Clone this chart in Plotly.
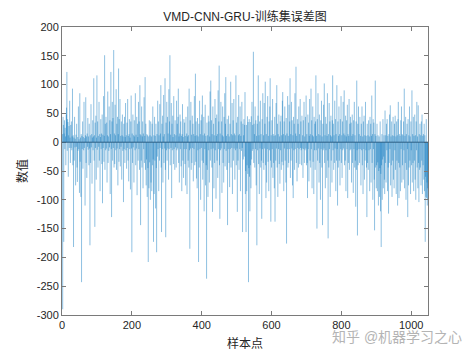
import plotly.graph_objects as go

# Training-set prediction errors, one value per sample
errors = [
    14, -290, 44, 30, -173, 15, 38, -12, 25, 10, -40, 48, 60, 122, -15, 40, 35, -60, 12, 28, -10, 72, 8, -36, 30,
    -10, 36, -14, 10, 93, -40, 12, -182, 8, -32, 44, -9, 6, -75, 13, -8, 32, -44, -69, 9, -15, 62, -12, 5, -88,
    85, -34, 8, -95, 14, -243, 11, -12, 36, -46, 9, -14, 70, -10, 7, -110, 12, 78, -36, 10, -62, 15, -8, 42, -13,
    10, -40, 32, -11, -179, 12, -36, 66, -9, 14, -72, 8, 38, -14, 10, 111, -32, 12, -147, 34, -10, 46, -65, 8, 116,
    -13, 36, -44, 11, -8, 70, -32, 14, -85, 9, 40, -12, 15, -38, 48, -106, 13, -10, 80, -34, 11, 151, -48, 32, -14,
    44, -11, 34, -70, 12, 88, -36, 10, -15, 62, -9, 38, -90, 14, 122, -12, -130, 36, 70, -32, 42, -10, 160, -44, 15,
    -38, 65, 12, -14, 92, -48, 32, -11, 44, -75, 14, 128, -34, 40, -12, 75, -42, 11, -8, 36, -65, 12, 48, -15, 10,
    -104, 32, -12, 44, -36, 9, 68, -14, 12, -46, 34, -10, 75, -32, 11, -68, 14, 40, -12, 8, -82, 36, 81, -11, -191,
    15, -36, 48, -9, 12, -70, 38, 10, -14, 85, -40, 13, -11, 44, -92, 32, 9, -32, 70, -12, 36, -48, 99, 14, -144,
    12, -32, 62, -44, 10, 36, -80, 15, -12, 78, -36, 11, 113, -48, 32, -75, -30, 14, -95, 12, -45, -208, 10, -80, 38,
    -35, 12, -100, 36, -70, 10, -85, 32, -40, 62, -30, -173, 12, -90, 44, -32, 11, -115, 32, -45, -191, 14, -25, 72, -12,
    36, -85, 12, -32, 66, -10, 15, 99, -44, -156, 32, -12, 46, -70, 10, 82, -36, 14, -11, 111, -48, -165, 34, -14, 70,
    -32, 44, -11, 15, -65, 92, -12, 36, 151, -40, 13, -10, 68, -97, 32, -14, 46, 9, -38, 80, -12, 14, -48, 38, -9,
    12, -44, 72, -14, 32, -11, 44, 93, -36, 10, -70, 15, 48, -12, 36, -42, 11, -85, 14, 66, -32, 9, -62, 40, -12,
    34, -38, 11, -75, 44, -12, 15, -90, 10, 62, -32, 12, -44, 93, -14, -185, 38, -11, 70, -48, 13, -36, 46, -10, 32,
    -68, 14, -12, 80, -40, 11, 119, -34, 36, -63, 12, -80, 42, -14, 10, -208, 32, -44, 72, -12, 14, -100, 38, -10, 48,
    -32, 81, -65, 12, -36, 44, -120, 15, -12, 65, -75, 11, -40, -237, 34, -48, 12, -95, 46, -14, 36, -70, 10, 88, -32,
    107, -12, 38, -44, 14, -121, 62, -11, 32, -80, 12, -36, 75, -14, 42, -98, 11, 48, -32, 14, -62, 90, -12, 36, 133,
    -40, -133, 15, -14, 70, -11, 36, -88, 12, 62, -36, 10, -70, 44, -12, 85, -42, 32, 113, -15, 11, -48, 40, -144, 14,
    -12, 46, -36, 10, -78, 32, -12, 105, -44, 14, -10, 68, -90, 12, 38, -32, 75, -11, 15, -65, 12, -14, 116, -40, 34,
    -11, -121, 44, -32, 12, 82, -48, 14, -12, 62, -85, 11, 36, -15, 70, -10, -156, 32, -30, 12, 40, -25, 30, 87, -90,
    -50, -156, 30, -85, -40, 45, -55, 35, -243, -45, 40, -60, -120, 35, -40, -80, 45, -30, 70, -15, 30, -12, 157, -36, 32,
    14, -44, 62, -12, 38, -75, 11, -179, 32, -14, 46, 116, -38, 12, -90, 36, -11, 72, -44, 14, -32, -133, 40, -12, 85,
    -36, 12, -48, 68, -11, 32, 105, -40, -97, 14, -70, 44, -12, 80, -34, 11, -85, 36, -14, 62, 111, -32, -138, 12, -44,
    38, -12, 75, -62, 14, -36, 11, -80, 44, -138, 12, -32, 68, -11, 99, -44, 32, -95, 14, -12, 48, -38, 10, -72, 36,
    -14, 46, -48, 12, -34, 72, 87, -40, 14, -85, 36, -11, 62, -32, 12, -70, 42, -176, 15, -12, 80, -44, 11, -36, 65,
    -12, 36, 111, -62, 14, -32, 70, -11, 38, -75, 12, -97, 44, -14, 32, -48, 85, -12, 15, 131, -36, 11, -68, 40, -10,
    32, -44, 62, -12, 14, -38, 75, -10, 36, -14, -40, 46, -11, 12, -62, 38, -12, 70, -36, 10, -14, 44, -11, 81, -40,
    14, -36, -97, 48, -12, 34, -68, 11, 75, -32, 14, -44, 93, -12, 38, -80, 12, 62, -34, 10, -90, 44, -14, 32, -48,
    36, 116, -14, 11, -150, 40, -32, 85, -11, 14, -70, 48, -36, 12, -100, 38, -12, 72, -44, 10, -144, 32, -14, 65, -11,
    102, -36, 12, -80, 44, -14, 32, -62, 11, 85, -32, -167, 14, -44, 68, -12, 36, -95, 12, 46, -32, 10, -70, 38, 116,
    -14, 32, -48, 12, -36, 72, -11, 40, -85, 14, -32, 99, -12, -110, 36, -44, 11, 62, -32, 14, -75, 40, -12, 80, -36,
    12, -62, 36, -14, 70, -11, 15, 90, -40, 12, -32, 46, -85, 10, 38, -12, 65, -97, 14, -36, 11, 75, -48, 32, -14,
    44, -12, 34, -70, 11, 48, -36, 14, -88, 38, -12, 70, -44, 12, -32, -112, 36, -48, 107, -14, -162, 32, -40, 62, -12,
    14, -36, 44, -12, 11, -75, 32, -14, 62, -40, 10, -90, 36, -12, 46, -65, 12, -32, 70, -14, 11, -44, -130, 32, -36,
    12, -48, 38, -14, 10, -85, 44, -12, 32, -70, 11, 81, -36, 14, -100, 40, -12, 34, -65, -153, 14, 107, -44, 11, -80,
    -40, 32, -85, -35, 12, -110, -50, 10, -95, -45, 36, -120, -55, -182, -40, 14, -100, -30, 40, -80, -25, 12, -65, -90, 55,
    -36, 12, -70, 32, -14, 40, -85, 11, -44, -124, 14, -36, 48, -12, 64, -75, 10, -40, 36, -95, 12, -32, 44, -65, 11,
    -80, 32, -14, 46, -48, 10, -90, 36, -32, 12, -110, 40, 70, -36, -97, 14, -44, 11, -85, 38, -12, 62, -70, 14, -40,
    12, -65, 36, -14, 93, -80, 11, -36, 44, -100, 14, -48, 32, -12, -130, 40, -75, 12, -44, 62, -32, 10, -90, 36, -14,
    -40, 90, -70, 14, -36, 44, -85, 11, -32, 48, -65, 12, -100, 36, -14, 70, -44, 10, -80, 64, -36, -104, 14, -48, 32,
    -44, 12, -75, 36, -32, 48, -90, 11, -40, 14, -65, 32, -85, 12, -173, -60, -95, 40, -97, -70, -110, -80, -100, -65, -90,
]

sample_idx = list(range(1, len(errors) + 1))

x_ticks = [0, 200, 400, 600, 800, 1000]
y_ticks = [-300, -250, -200, -150, -100, -50, 0, 50, 100, 150, 200]
y_tick_text = ["-300", "-250", "-200", "-150", "-100", "-50", "0", "50", "100", "150", "200"]

title_text = "VMD-CNN-GRU-训练集误差图"
x_label = "样本点"
y_label = "数值"
watermark = "知乎 @机器学习之心"

# Thin stem for every sample, from 0 to its error value
xs, ys = [], []
for i, v in zip(sample_idx, errors):
    xs += [i, i, None]
    ys += [0, v, None]

FONT = "Liberation Sans, Arial, Noto Sans CJK SC, sans-serif"
AX = "#7a7a7a"

fig = go.Figure()
fig.add_trace(go.Scatter(
    x=xs, y=ys, mode="lines",
    line=dict(color="#0072BD", width=0.45, simplify=False),
    hoverinfo="skip", showlegend=False,
))

# bar-chart baseline at zero
fig.add_hline(y=0, line=dict(color="#2b5f84", width=1))

fig.update_layout(
    width=474, height=355,
    margin=dict(l=62, r=46, t=27, b=40),
    paper_bgcolor="white", plot_bgcolor="white",
    font=dict(family=FONT, size=11, color="#262626"),
    title=dict(text=title_text, x=0.5, xref="paper", xanchor="center",
               y=1 - 17 / 355, yref="container", yanchor="middle",
               font=dict(size=12, color="#262626")),
    showlegend=False,
)
fig.update_xaxes(
    range=[0, 1048], tickvals=x_ticks, ticks="inside", ticklen=4, tickcolor=AX,
    showline=True, linecolor=AX, linewidth=1, mirror="ticks",
    showgrid=False, zeroline=False, automargin=False,
    title=dict(text=x_label, font=dict(size=12), standoff=9),
)
fig.update_yaxes(
    range=[-300, 200], tickvals=y_ticks, ticktext=y_tick_text,
    ticks="inside", ticklen=4, tickcolor=AX,
    showline=True, linecolor=AX, linewidth=1, mirror="ticks",
    showgrid=False, zeroline=False, automargin=False,
    title=dict(text=y_label, font=dict(size=12), standoff=6),
)
fig.add_annotation(
    text=watermark, xref="paper", yref="paper",
    x=(397 - 62) / 366, y=(315 - 337) / 288, xanchor="center", yanchor="middle",
    showarrow=False, font=dict(size=14, color="#b4b4b4"),
)

fig.write_html("out.html")
